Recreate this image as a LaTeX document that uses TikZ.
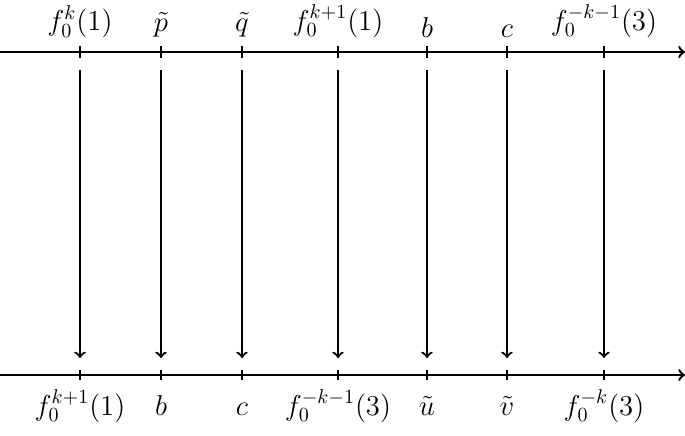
\documentclass[tikz,border=0pt]{standalone}
\begin{document}
\begin{tikzpicture}[x=1pt,y=1pt,
  axis/.style={line width=1.2pt,-to},
  tickmark/.style={line width=1.2pt},
  maparrow/.style={line width=1.1pt,-to},
  toplab/.style={anchor=south,font=\fontsize{14.2}{17}\selectfont,inner sep=2pt},
  botlab/.style={anchor=base,font=\fontsize{14.2}{17}\selectfont}]
\useasboundingbox (0,0) rectangle (342.5,217.5);
% axes
\coordinate (tl) at (0,191.5);
\coordinate (tr) at (342.5,191.5);
\coordinate (bl) at (0,30);
\coordinate (br) at (342.5,30);
\draw[axis] (tl) -- (tr);
\draw[axis] (bl) -- (br);
% points
\foreach \i/\x/\tl/\bl in {
  1/40/{$f_0^{k}(1)$}/{$f_0^{k+1}(1)$},
  2/80.5/{$\tilde p$}/{$b$},
  3/121/{$\tilde q$}/{$c$},
  4/169/{$f_0^{k+1}(1)$}/{$f_0^{-k-1}(3)$},
  5/213.5/{$b$}/{$\tilde u$},
  6/253.5/{$c$}/{$\tilde v$},
  7/302/{$f_0^{-k-1}(3)$}/{$f_0^{-k}(3)$}}{
  \coordinate (tt\i) at (\x,194.5);
  \coordinate (tb\i) at (\x,188.5);
  \coordinate (bt\i) at (\x,32.5);
  \coordinate (bb\i) at (\x,27.5);
  \coordinate (s\i) at (\x,182.5);
  \coordinate (e\i) at (\x,38.5);
  \draw[tickmark] (tt\i) -- (tb\i);
  \draw[tickmark] (bt\i) -- (bb\i);
  \draw[maparrow] (s\i) -- (e\i);
  \node[toplab] (lt\i) at (\x,196.5) {\tl};
  \node[botlab] (lb\i) at (\x,10) {\bl};
}
\end{tikzpicture}
\end{document}
